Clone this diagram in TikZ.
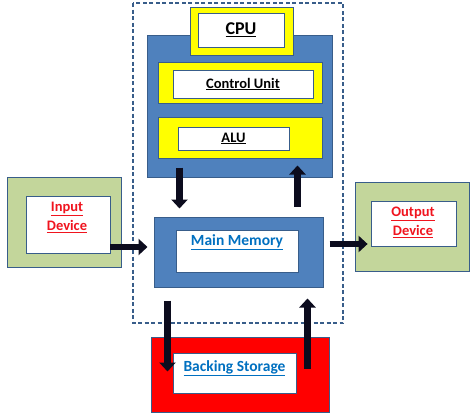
\documentclass[tikz,border=0pt]{standalone}
\usepackage{fontspec}
\setmainfont{Carlito}
\usepackage{tikz}
\usetikzlibrary{arrows.meta,calc}

\definecolor{cpublue}{HTML}{4F81BD}
\definecolor{boxedge}{HTML}{385D8A}
\definecolor{unityellow}{HTML}{FFFF00}
\definecolor{devgreen}{HTML}{C3D69B}
\definecolor{storered}{HTML}{FF0000}
\definecolor{linkblue}{HTML}{0070C0}
\definecolor{devred}{HTML}{F0141E}
\definecolor{arrowink}{HTML}{0C0C1E}

\tikzset{
	box/.style={draw=boxedge, line width=1pt, inner sep=0pt},
	bluebox/.style={box, fill=cpublue},
	yellowbox/.style={box, fill=unityellow},
	greenbox/.style={box, fill=devgreen},
	redbox/.style={box, fill=storered},
	whitebox/.style={box, fill=white, line width=0.8pt},
	unittext/.style={font=\fontsize{14.5}{16}\selectfont\bfseries},
	linktext/.style={font=\fontsize{15.5}{17}\selectfont\bfseries, text=linkblue},
	devtext/.style={font=\fontsize{14.5}{19}\selectfont\bfseries, text=devred, align=center},
	flow/.style={draw=arrowink, line width=6.5pt, -{Triangle[width=16pt,length=9pt]}}
}

\begin{document}
\begin{tikzpicture}[x=1pt,y=-1pt]
		\useasboundingbox[fill=white] (0,0) rectangle (474,418);

		% processor
		\draw[draw=boxedge, line width=1.2pt, dash pattern=on 4pt off 2.5pt] (133,3) rectangle (343,323);
		\node[bluebox, minimum width=185, minimum height=142] (cpu) at (239.5,106) {};
		\node[yellowbox, minimum width=103, minimum height=48] (cpulabel) at (241.5,31) {};
		\node[whitebox, minimum width=86, minimum height=34, font=\fontsize{18}{20}\selectfont\bfseries] (cputext) at (241,30) {\underline{CPU}};
		\node[yellowbox, minimum width=164, minimum height=41] (cu) at (240,82.5) {};
		\node[whitebox, unittext, minimum width=140, minimum height=28] (cutext) at (243,84) {\underline{Control Unit}};
		\node[yellowbox, minimum width=164, minimum height=41] (alu) at (240,137.5) {};
		\node[whitebox, unittext, minimum width=111, minimum height=23] (alutext) at (233.5,138.5) {\underline{ALU}};

		\node[bluebox, minimum width=169, minimum height=70] (mem) at (238.5,252) {};
		\node[whitebox, minimum width=122, minimum height=42] (memwhite) at (237,251) {};
		\node[linktext] (memtext) at ($(memwhite.north)+(0,13)$) {\underline{Main Memory}};

		% devices
		\node[greenbox, minimum width=114, minimum height=90] (in) at (64,222) {};
		\node[whitebox, minimum width=84, minimum height=57] (inwhite) at (68,224.5) {};
		\node[devtext] (intext) at (67,217.5) {\underline{Input}\\\underline{Device}};
		\node[greenbox, minimum width=114, minimum height=89] (out) at (412,226.5) {};
		\node[whitebox, minimum width=85, minimum height=45] (outwhite) at (413.5,223.5) {};
		\node[devtext] (outtext) at (413,222.5) {\underline{Output}\\\underline{Device}};

		\node[redbox, minimum width=178, minimum height=75] (store) at (240,374.5) {};
		\node[whitebox, minimum width=123, minimum height=40] (storewhite) at (234.5,373) {};
		\node[linktext] (storetext) at ($(storewhite.north)+(0,15.5)$) {\underline{Backing Storage}};

		% data flow
		\draw[flow] ($(inwhite.east |- mem.west)+(0,-5)$) -- ($(mem.west)+(-6,-5)$);
		\draw[flow] ($(mem.east)+(6,-8)$) -- ($(mem.east -| outwhite.west)+(-3,-8)$);
		\draw[flow] ($(cpu.south west)+(33,-10)$) -- ($(mem.north west)+(26,-8)$);
		\draw[flow] ($(mem.north west)+(144,-10)$) -- ($(cpu.south west)+(151,-12)$);
		\draw[flow] ($(mem.south west)+(14,13)$) -- ($(store.north west)+(17,35)$);
		\draw[flow] ($(store.north east)+(-22,32)$) -- ($(mem.south east)+(-16,11)$);
	\end{tikzpicture}
\end{document}
